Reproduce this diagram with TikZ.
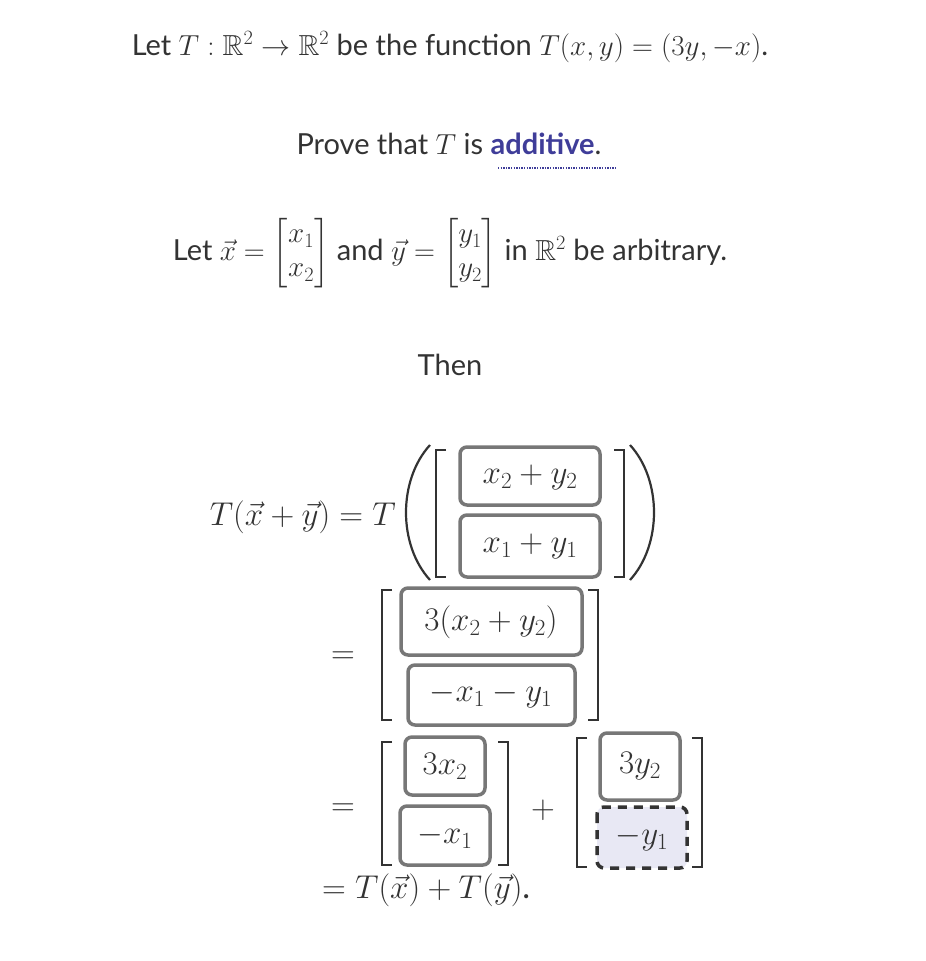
\RequirePackage{fix-cm}
\documentclass[tikz,border=0pt]{standalone}
\usepackage{amsmath,amssymb}
\usepackage{fontspec}
\setmainfont{Lato}
\definecolor{txt}{HTML}{333333}
\definecolor{bx}{HTML}{777777}
\definecolor{addc}{HTML}{3F3D99}
\definecolor{lav}{HTML}{E8E8F4}
\begin{document}
\begin{tikzpicture}[x=1pt,y=-1pt,
  every node/.style={text=txt,inner sep=0pt,font=\fontsize{29}{34}\selectfont},
  mbox/.style={draw=bx,line width=3.5pt,rounded corners=7pt,fill=white},
  brk/.style={draw=txt,line width=2.2pt},
  big/.style={font=\fontsize{33}{38}\selectfont}]
\useasboundingbox (0,0) rectangle (926,961);
\node (l1) at (450,47) {Let $T:\mathbb{R}^2\to\mathbb{R}^2$ be the function $T(x,y)=(3y,-x)$.};
\node (l2) at (449,144) {Prove that $T$ is \textcolor{addc}{\textbf{additive}}.};
\draw[addc,line width=1.3pt,dash pattern=on 1.3pt off 1.3pt] (498,168) -- (617,168);
\node (l3) at (450,253) {Let $\vec{x}=\begin{bmatrix}x_1\\x_2\end{bmatrix}$ and $\vec{y}=\begin{bmatrix}y_1\\y_2\end{bmatrix}$ in $\mathbb{R}^2$ be arbitrary.};
\node (then) at (450,365) {Then};
\node[big,anchor=east] (lhs) at (396,517) {$T(\vec{x}+\vec{y})=T$};
% parens
\draw[brk] (430,445) .. controls (398,480) and (398,545) .. (430,580);
\draw[brk] (630,445) .. controls (662,480) and (662,545) .. (630,580);
\draw[brk] (446,450) -- (436,450) -- (436,577) -- (446,577);
\draw[brk] (614,450) -- (624,450) -- (624,577) -- (614,577);
\draw[mbox] (460,447) rectangle (600,505);
\node[big] (b1) at (530,477) {$x_2+y_2$};
\draw[mbox] (460,515) rectangle (600,577);
\node[big] (b2) at (530,546) {$x_1+y_1$};
% row 2
\node[big] (eq2) at (343,658) {$=$};
\draw[brk] (392,590) -- (382,590) -- (382,720) -- (392,720);
\draw[brk] (588,590) -- (598,590) -- (598,720) -- (588,720);
\draw[mbox] (401,588) rectangle (582,655);
\node[big] (b3) at (491,622) {$3(x_2+y_2)$};
\draw[mbox] (408,665) rectangle (575,725);
\node[big] (b4) at (491,695) {$-x_1-y_1$};
% row 3
\node[big] (eq3) at (343,810) {$=$};
\draw[brk] (392,742) -- (382,742) -- (382,865) -- (392,865);
\draw[brk] (498,742) -- (508,742) -- (508,865) -- (498,865);
\draw[mbox] (405,737) rectangle (485,795);
\node[big] (b5) at (445,766) {$3x_2$};
\draw[mbox] (400,806) rectangle (490,865);
\node[big] (b6) at (445,836) {$-x_1$};
\node[big] (plus) at (543,810) {$+$};
\draw[brk] (587,738) -- (577,738) -- (577,867) -- (587,867);
\draw[brk] (692,738) -- (702,738) -- (702,867) -- (692,867);
\draw[mbox] (600,733) rectangle (680,800);
\node[big] (b7) at (640,766) {$3y_2$};
\draw[draw=txt,line width=3.5pt,rounded corners=7pt,fill=lav,dash pattern=on 9pt off 7pt] (597,807) rectangle (687,868);
\node[big] (b8) at (642,838) {$-y_1$};
\node[big,anchor=west] (fin) at (322,890) {$=T(\vec{x})+T(\vec{y})$.};
\end{tikzpicture}
\end{document}
